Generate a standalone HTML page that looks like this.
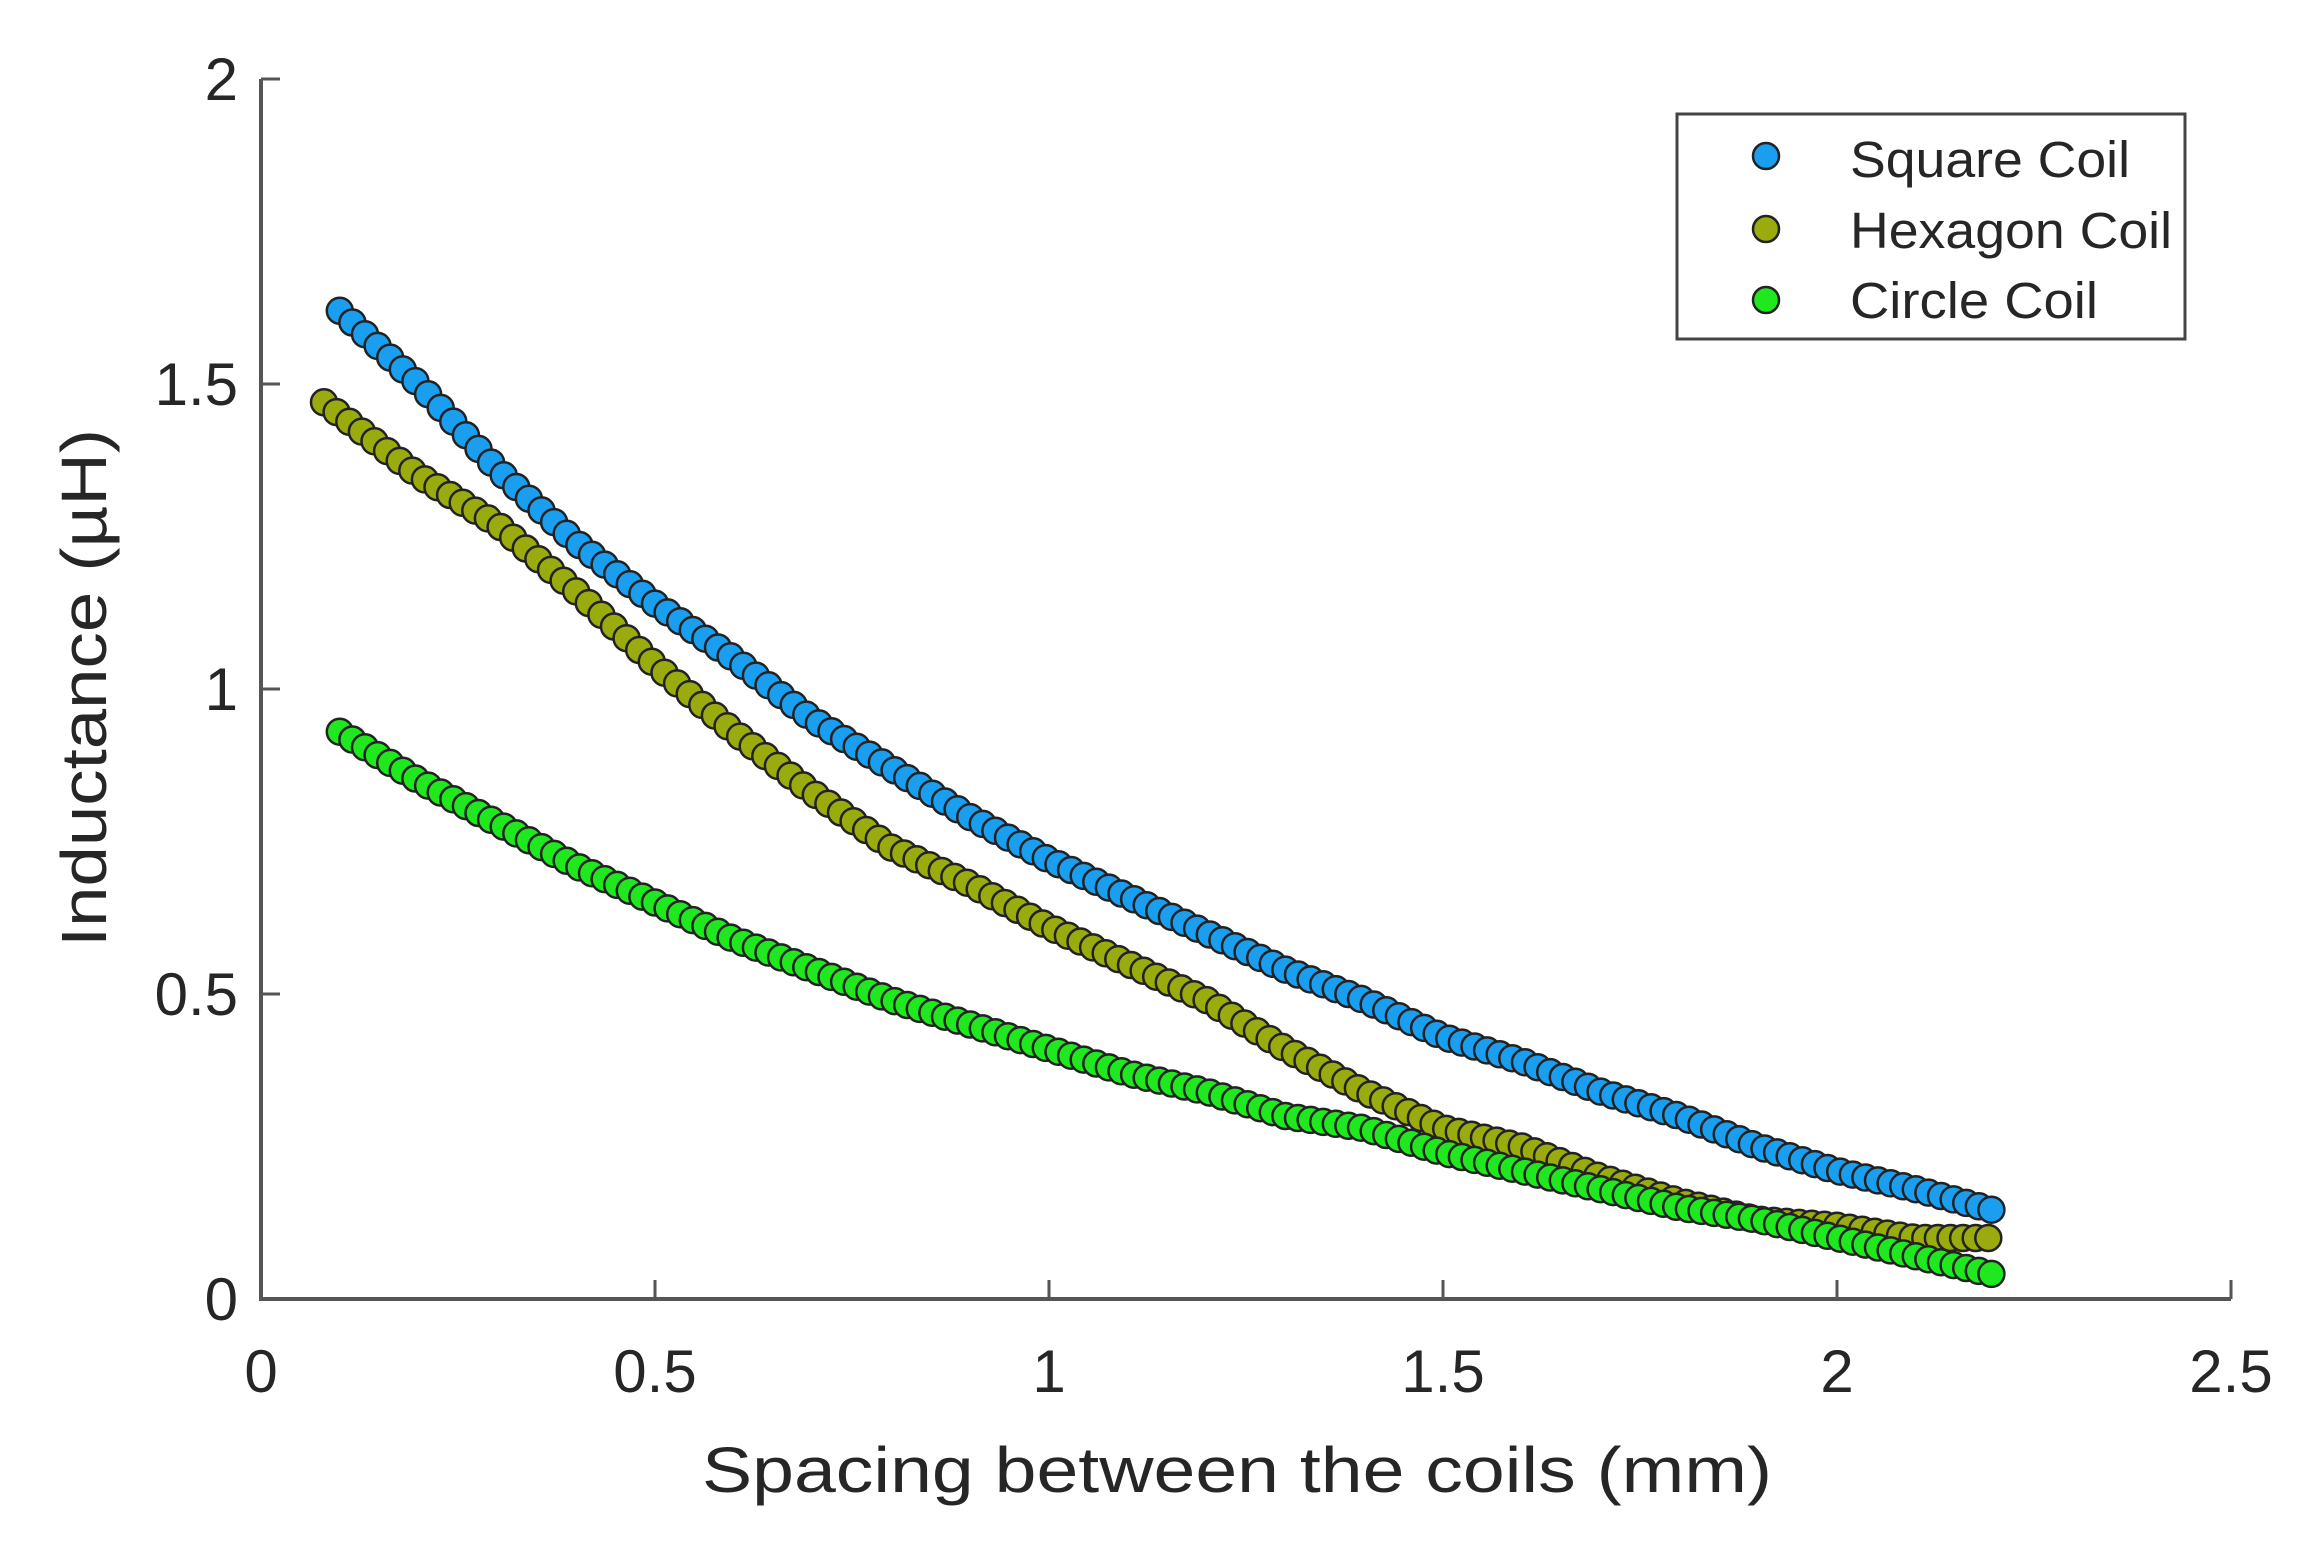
<!DOCTYPE html>
<html><head><meta charset="utf-8">
<style>html,body{margin:0;padding:0;background:#fff;}svg{display:block;}</style>
</head><body>
<svg id="s" width="2321" height="1546" xmlns="http://www.w3.org/2000/svg" font-family="Liberation Sans, Arial, sans-serif">
<rect width="2321" height="1546" fill="#fff"/>
<g id="pts"></g>
<g stroke="#555" stroke-width="4" fill="none">
<path d="M261,79 L261,1299 L2231,1299"/>
</g>
<g id="ticks" stroke="#555" stroke-width="3"></g>
<g font-size="60" fill="#262626" text-anchor="end">
<text x="238" y="1320">0</text>
<text x="238" y="1015">0.5</text>
<text x="238" y="710">1</text>
<text x="238" y="405">1.5</text>
<text x="238" y="100">2</text>
</g>
<g font-size="60" fill="#262626" text-anchor="middle">
<text x="261" y="1392">0</text>
<text x="655" y="1392">0.5</text>
<text x="1049" y="1392">1</text>
<text x="1443" y="1392">1.5</text>
<text x="1837" y="1392">2</text>
<text x="2231" y="1392">2.5</text>
</g>
<text x="1237" y="1492" font-size="64" fill="#262626" text-anchor="middle" textLength="1070" lengthAdjust="spacingAndGlyphs">Spacing between the coils (mm)</text>
<text transform="translate(106,688) rotate(-90)" font-size="64" fill="#262626" text-anchor="middle" textLength="518" lengthAdjust="spacingAndGlyphs">Inductance (µH)</text>
<rect x="1677" y="114" width="508" height="225" fill="#fff" stroke="#444" stroke-width="3"/>
<g stroke="#222" stroke-width="2.5">
<circle cx="1766" cy="156" r="13" fill="#1a9ef0"/>
<circle cx="1766" cy="229" r="13" fill="#9aab0e"/>
<circle cx="1766" cy="300" r="13" fill="#1fe81f"/>
</g>
<g font-size="51" fill="#262626">
<text x="1850" y="177" textLength="280" lengthAdjust="spacingAndGlyphs">Square Coil</text>
<text x="1850" y="248" textLength="322" lengthAdjust="spacingAndGlyphs">Hexagon Coil</text>
<text x="1850" y="318" textLength="248" lengthAdjust="spacingAndGlyphs">Circle Coil</text>
</g>
</svg>
<script>
var X0=261,Y0=1299,SX=788,SY=610;
var sq=[[0.1,1.62],[0.2,1.5],[0.3,1.36],[0.4,1.24],[0.5,1.14],[0.6,1.05],[0.7,0.95],[0.8,0.87],[0.9,0.79],[1.0,0.72],[1.1,0.66],[1.2,0.6],[1.3,0.54],[1.4,0.49],[1.5,0.43],[1.6,0.39],[1.7,0.34],[1.8,0.3],[1.9,0.25],[2.0,0.21],[2.1,0.18],[2.2,0.145]];
var hx=[[0.08,1.47],[0.2,1.35],[0.3,1.27],[0.4,1.16],[0.5,1.04],[0.6,0.93],[0.7,0.83],[0.8,0.74],[0.9,0.68],[1.0,0.61],[1.1,0.55],[1.2,0.49],[1.3,0.41],[1.4,0.34],[1.5,0.28],[1.6,0.25],[1.7,0.2],[1.8,0.16],[1.9,0.13],[2.0,0.12],[2.1,0.1],[2.2,0.1]];
var ci=[[0.1,0.93],[0.2,0.85],[0.3,0.78],[0.4,0.71],[0.5,0.65],[0.6,0.59],[0.7,0.54],[0.8,0.49],[0.9,0.45],[1.0,0.41],[1.1,0.37],[1.2,0.34],[1.3,0.3],[1.4,0.28],[1.5,0.24],[1.6,0.21],[1.7,0.18],[1.8,0.15],[1.9,0.13],[2.0,0.1],[2.1,0.07],[2.2,0.04]];
function interp(d,x){for(var i=0;i<d.length-1;i++){if(x<=d[i+1][0]){var t=(x-d[i][0])/(d[i+1][0]-d[i][0]);return d[i][1]+t*(d[i+1][1]-d[i][1]);}}return d[d.length-1][1];}
var h='';
function series(d,col,step){var a=d[0][0],b=d[d.length-1][0];for(var x=a;x<=b+1e-9;x+=step){var y=interp(d,x);h+='<circle cx="'+(X0+x*SX).toFixed(1)+'" cy="'+(Y0-y*SY).toFixed(1)+'" r="13" fill="'+col+'" stroke="#222" stroke-width="2.5"/>';}}
series(sq,'#1a9ef0',0.016);
series(hx,'#9aab0e',0.016);
series(ci,'#1fe81f',0.016);
document.getElementById('pts').innerHTML=h;
var t='';
for(var i=1;i<5;i++){var x=X0+i*0.5*SX;t+='<line x1="'+x+'" y1="1299" x2="'+x+'" y2="1280"/>';}
t+='<line x1="2231" y1="1299" x2="2231" y2="1280"/>';
for(var j=1;j<=4;j++){var y=Y0-j*0.5*SY;t+='<line x1="261" y1="'+y+'" x2="280" y2="'+y+'"/>';}
document.getElementById('ticks').innerHTML=t;
</script>
</body></html>
